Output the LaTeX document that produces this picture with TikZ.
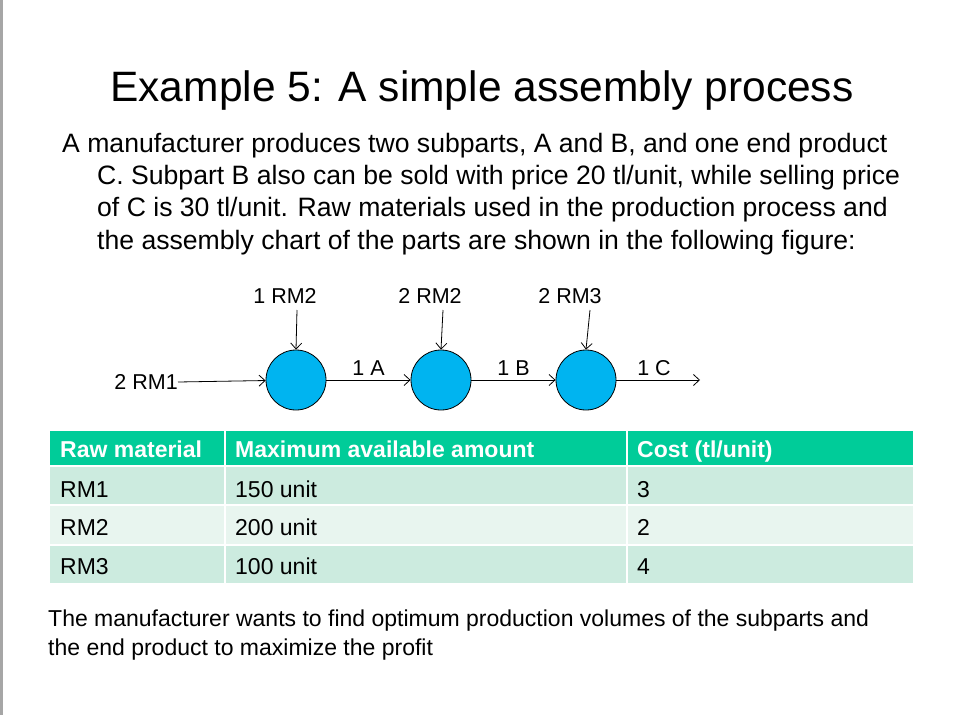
\documentclass[tikz,border=0pt]{standalone}
\usepackage{fontspec}
\setmainfont{Liberation Sans}
\usetikzlibrary{arrows.meta}
\begin{document}
\begin{tikzpicture}[x=1pt,y=-1pt,
  body/.style={anchor=base west,inner sep=0pt,font=\fontsize{26.6}{30}\selectfont},
  lab/.style={inner sep=0pt,font=\fontsize{21.5}{24}\selectfont},
  tab/.style={anchor=base west,inner sep=0pt,font=\fontsize{23}{26}\selectfont},
  th/.style={tab,text=white,font=\bfseries\fontsize{23}{26}\selectfont},
  arr/.style={-{Straight Barb[length=6pt,width=11pt]},line width=0.8pt}]
\useasboundingbox (0,0) rectangle (961,715);
\fill[white] (0,0) rectangle (961,715);
\fill[gray!70] (0,0) rectangle (3,715);
\node[inner sep=0pt,font=\fontsize{42.5}{46}\selectfont,anchor=base] (title) at (482,101) {Example 5: A simple assembly process};
\node[body] (l1) at (62,152) {A manufacturer produces two subparts, A and B, and one end product};
\node[body] (l2) at (97,184) {C. Subpart B also can be sold with price 20 tl/unit, while selling price};
\node[body] (l3) at (97,216) {of C is 30 tl/unit. Raw materials used in the production process and};
\node[body] (l4) at (97,249) {the assembly chart of the parts are shown in the following figure:};
\definecolor{blob}{HTML}{00B4F0}
\tikzset{proc/.style={circle,draw=black,line width=0.8pt,fill=blob,minimum size=60pt,inner sep=0pt}}
\node[proc] (p1) at (296,380) {};
\node[proc] (p2) at (441,380) {};
\node[proc] (p3) at (586,380) {};
\node[lab,anchor=east] (rm1) at (178,382) {2 RM1};
\node[lab] (t1) at (285,296) {1 RM2};
\node[lab] (t2) at (430,296) {2 RM2};
\node[lab] (t3) at (570,296) {2 RM3};
\coordinate (o) at (700,380);
\draw[arr] (rm1.east) -- (p1);
\draw[arr] (p1) -- node[lab,above=4pt]{1 A} (p2);
\draw[arr] (p2) -- node[lab,above=4pt]{1 B} (p3);
\draw[arr] (p3) -- node[lab,above=4pt,pos=0.45]{1 C} (o);
\draw[arr] (297,310) -- (p1.north);
\draw[arr] (443,310) -- (p2.north);
\draw[arr] (590,310) -- (p3.north);
\definecolor{hd}{HTML}{00CC99}
\definecolor{ra}{HTML}{CCEBDF}
\definecolor{rb}{HTML}{E8F5EF}
\fill[hd] (50,431) rectangle (913,466);
\fill[ra] (50,466) rectangle (913,505);
\fill[rb] (50,505) rectangle (913,545);
\fill[ra] (50,545) rectangle (913,583);
\draw[white,line width=1.5pt] (50,466)--(913,466) (50,505)--(913,505) (50,545)--(913,545)
  (225,431)--(225,583) (627,431)--(627,583);
\node[th] (h1) at (60,457) {Raw material};
\node[th] (h2) at (235,457) {Maximum available amount};
\node[th] (h3) at (637,457) {Cost (tl/unit)};
\node[tab] (a1) at (60,497) {RM1}; \node[tab] (b1) at (235,497) {150 unit}; \node[tab] (c1) at (637,497) {3};
\node[tab] (a2) at (60,535) {RM2}; \node[tab] (b2) at (235,535) {200 unit}; \node[tab] (c2) at (637,535) {2};
\node[tab] (a3) at (60,574) {RM3}; \node[tab] (b3) at (235,574) {100 unit}; \node[tab] (c3) at (637,574) {4};
\node[tab] (f1) at (48,626) {The manufacturer wants to find optimum production volumes of the subparts and};
\node[tab] (f2) at (48,655) {the end product to maximize the profit};
\end{tikzpicture}
\end{document}
